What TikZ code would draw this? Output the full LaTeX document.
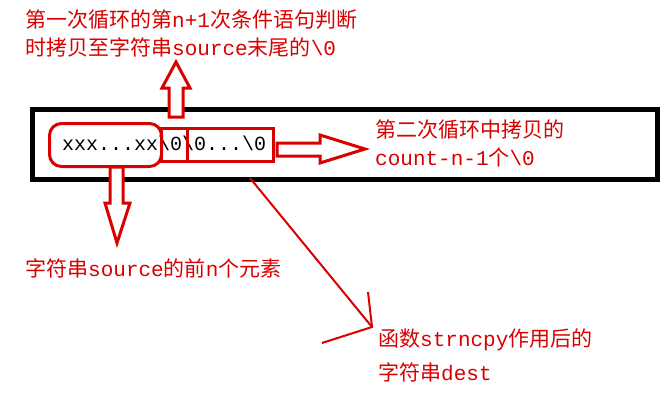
\documentclass[tikz,border=0pt]{standalone}
\usepackage{fontspec}
\setmainfont{Liberation Mono}
\newfontfamily\cjk{Noto Sans CJK SC}
\newcommand{\zh}[1]{{\cjk #1}}
\begin{document}
\begin{tikzpicture}[x=1pt,y=-1pt,
  lbl/.style={text=red!85!black,font=\fontsize{21}{22}\selectfont,anchor=west,inner sep=0pt},
  rl/.style={draw=red!85!black,line width=3pt},
  hollow/.style={draw=red!85!black,line width=3pt,fill=white}]
\useasboundingbox (0,0) rectangle (672,415);
\node[draw=black,line width=5pt,minimum width=625,minimum height=70,anchor=north west,inner sep=0pt] (box) at (30,107) {};
\node[anchor=west,inner sep=0pt,font=\fontsize{20}{22}\selectfont] (str) at (62,143) {xxx...xx\textbackslash0\textbackslash0...\textbackslash0};
\node[rl,rounded corners=12pt,minimum width=112,minimum height=43,anchor=north west] (ell) at (48,122) {};
\node[rl,minimum width=26,minimum height=33,anchor=north west] (z1) at (160,127) {};
\node[rl,minimum width=86,minimum height=33,anchor=north west] (z2) at (186,127) {};
% up arrow
\draw[hollow] (169,117) -- (169,88) -- (162,88) -- (176,62) -- (190,88) -- (183,88) -- (183,117) -- cycle;
% down arrow
\draw[hollow] (110,167) -- (110,203) -- (105,203) -- (117,243) -- (130,203) -- (123,203) -- (123,167) -- cycle;
% right arrow
\draw[hollow] (277,143) -- (320,143) -- (320,135) -- (365,149) -- (320,163) -- (320,156) -- (277,156) -- cycle;
\coordinate (tip) at (372,327);
\coordinate (s) at (250,178);
\draw[red!85!black,line width=2pt] (s) -- (tip);
\draw[red!85!black,line width=2pt] (368,292) -- (tip) -- (322,343);
\node[lbl] (t1) at (25,20) {\zh{第一次循环的第}n+1\zh{次条件语句判断}};
\node[lbl] (t2) at (25,47) {\zh{时拷贝至字符串}source\zh{末尾的}\textbackslash0};
\node[lbl] (t3) at (375,130) {\zh{第二次循环中拷贝的}};
\node[lbl] (t4) at (375,157) {count-n-1\zh{个}\textbackslash0};
\node[lbl] (t5) at (25,268) {\zh{字符串}source\zh{的前}n\zh{个元素}};
\node[lbl] (t6) at (378,340) {\zh{函数}strncpy\zh{作用后的}};
\node[lbl] (t7) at (378,372) {\zh{字符串}dest};
\end{tikzpicture}
\end{document}
